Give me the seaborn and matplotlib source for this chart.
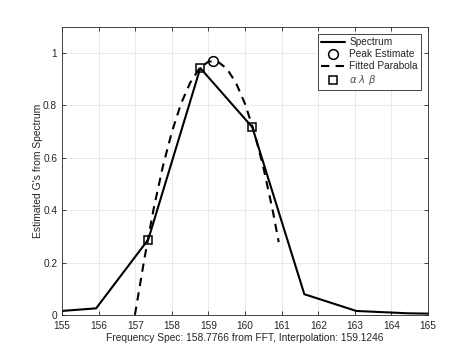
import seaborn as sns
import matplotlib.pyplot as plt
import pandas as pd

# Espectro (bins da FFT)
freq_spec = [154.51, 155.93, 157.355, 158.777, 160.198, 161.62, 163.04, 164.46, 165.88]
amp_spec = [0.010, 0.025, 0.288, 0.943, 0.717, 0.079, 0.015, 0.006, 0.003]

# Pico estimado pela interpolacao
freq_peak = [159.1246]
amp_peak = [0.971]

freq_par = [156.99, 157.25, 157.5, 157.75, 158.0, 158.25, 158.5, 158.75, 159.0,
            159.25, 159.5, 159.75, 160.0, 160.25, 160.5, 160.75, 160.92]
amp_par = [0.0, 0.215, 0.404, 0.565, 0.699, 0.807, 0.887, 0.941, 0.968,
           0.968, 0.941, 0.887, 0.806, 0.699, 0.564, 0.403, 0.278]

# Pontos alfa, lambda, beta
freq_abl = [157.355, 158.777, 160.198]
amp_abl = [0.288, 0.943, 0.717]

spec = pd.DataFrame({"f": freq_spec, "a": amp_spec})
peak = pd.DataFrame({"f": freq_peak, "a": amp_peak})
par = pd.DataFrame({"f": freq_par, "a": amp_par})
abl = pd.DataFrame({"f": freq_abl, "a": amp_abl})

sns.set_style("whitegrid", {"grid.color": "#e6e6e6", "axes.edgecolor": "#262626",
                            "xtick.direction": "in", "ytick.direction": "in",
                            "xtick.top": True, "ytick.right": True,
                            "xtick.bottom": True, "ytick.left": True})
plt.rcParams["font.family"] = ["Liberation Sans", "DejaVu Sans"]

fig = plt.figure(figsize=(4.74, 3.55), dpi=100)
ax = fig.add_axes([0.131, 0.113, 0.772, 0.811])

sns.lineplot(data=spec, x="f", y="a", color="black", linewidth=1.5, label="Spectrum", ax=ax)
sns.lineplot(data=peak, x="f", y="a", color="black", linestyle="none", marker="o",
             markersize=7, markerfacecolor="none", markeredgecolor="black",
             markeredgewidth=1.1, label="Peak Estimate", ax=ax)
sns.lineplot(data=par, x="f", y="a", color="black", linewidth=1.5, linestyle=(0, (4, 3)),
             label="Fitted Parabola", ax=ax)
sns.lineplot(data=abl, x="f", y="a", color="black", linestyle="none", marker="s",
             markersize=6, markerfacecolor="none", markeredgecolor="black",
             markeredgewidth=1.1, label=r"$\alpha\ \lambda\ \beta$", ax=ax)

ax.set_xlim(155, 165)
ax.set_ylim(0, 1.1)
ax.set_xticks(range(155, 166))
ax.set_yticks([0, 0.2, 0.4, 0.6, 0.8, 1])
ax.set_yticklabels(["0", "0.2", "0.4", "0.6", "0.8", "1"])
ax.tick_params(labelsize=7.3, colors="#262626", length=3, width=0.6)
ax.tick_params(axis="y", pad=3.5)
ax.tick_params(axis="x", pad=4.5)
for s in ax.spines.values():
    s.set_linewidth(0.6)
    s.set_color("#262626")
ax.grid(True, linewidth=0.6)

ax.set_xlabel("Frequency Spec: 158.7766 from FFT, Interpolation: 159.1246",
              fontsize=7.4, color="#262626", labelpad=1)
ax.set_ylabel("Estimated G's from Spectrum", fontsize=7.4, color="#262626", labelpad=0)

leg = ax.legend(loc="upper right", fontsize=7.3, frameon=True, fancybox=False,
                edgecolor="#262626", framealpha=1, handlelength=2.4,
                borderpad=0.3, labelspacing=0.2, handletextpad=0.4,
                borderaxespad=0.7)
leg.get_frame().set_linewidth(0.6)
leg.get_texts()[3].set_color("#555555")

fig.savefig("out.png", dpi=100)
